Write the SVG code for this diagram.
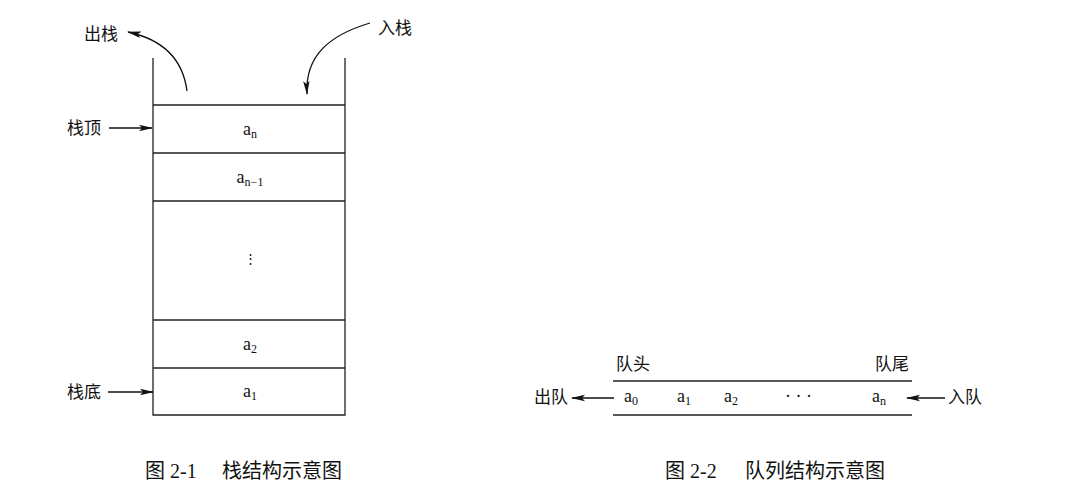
<svg xmlns="http://www.w3.org/2000/svg" width="1084" height="494" viewBox="0 0 1084 494">
<defs>
<marker id="ah" markerWidth="14" markerHeight="8" refX="13" refY="4" orient="auto" markerUnits="userSpaceOnUse">
<path d="M0,0.8 L14,4 L0,7.2 L3,4 Z" fill="#111"/>
</marker>
<style>
.ln{stroke:#222;stroke-width:1.3;fill:none}
.ar{stroke:#111;stroke-width:1.3;fill:none;marker-end:url(#ah)}
.cn{font-family:"Liberation Serif","Noto Sans CJK SC",serif;font-size:17px;fill:#111}
.cap{font-family:"Liberation Serif","Noto Sans CJK SC",serif;font-size:20px;fill:#111}
.el{font-family:"Liberation Serif",serif;font-size:18px;fill:#111}
.sb{font-size:12px}
</style>
</defs>
<rect width="1084" height="494" fill="#fff"/>
<g id="stack">
<path class="ln" d="M153,58 V415 H345 V58"/>
<path class="ln" d="M153,105 H345 M153,153 H345 M153,201 H345 M153,320 H345 M153,368 H345"/>
</g>
<g id="cells" class="el" text-anchor="middle">
<text x="250" y="135">a<tspan class="sb" dy="3">n</tspan></text>
<text x="250" y="183">a<tspan class="sb" dy="3">n−1</tspan></text>
<text x="250" y="263" font-size="13">⋮</text>
<text x="250" y="350">a<tspan class="sb" dy="3">2</tspan></text>
<text x="250" y="397">a<tspan class="sb" dy="3">1</tspan></text>
</g>
<g id="stack-labels" class="cn">
<text x="84" y="40">出栈</text>
<text x="378" y="34">入栈</text>
<text x="67" y="134">栈顶</text>
<text x="67" y="398">栈底</text>
</g>
<g id="queue">
<path class="ln" d="M613,381 H912 M613,415 H912"/>
</g>
<g id="queue-items" class="el">
<text x="624" y="402">a<tspan class="sb" dy="3">0</tspan></text>
<text x="677" y="402">a<tspan class="sb" dy="3">1</tspan></text>
<text x="724" y="402">a<tspan class="sb" dy="3">2</tspan></text>
<text x="785" y="402">· · ·</text>
<text x="872" y="402">a<tspan class="sb" dy="3">n</tspan></text>
</g>
<g id="queue-labels" class="cn">
<text x="616" y="370">队头</text>
<text x="875" y="370">队尾</text>
<text x="534" y="403">出队</text>
<text x="948" y="403">入队</text>
</g>
<g id="connectors">
<path class="ar" d="M187,91 C183,60 165,40 128,32"/>
<path class="ar" d="M370,23 C330,35 305,55 307,94"/>
<path class="ar" d="M109,128 H152"/>
<path class="ar" d="M108,392 H153"/>
<path class="ar" d="M614,398 H572"/>
<path class="ar" d="M945,398 H907"/>
</g>
<g id="captions" class="cap">
<text x="145" y="478">图 2-1</text>
<text x="222" y="478">栈结构示意图</text>
<text x="665" y="478">图 2-2</text>
<text x="745" y="478">队列结构示意图</text>
</g>
</svg>
